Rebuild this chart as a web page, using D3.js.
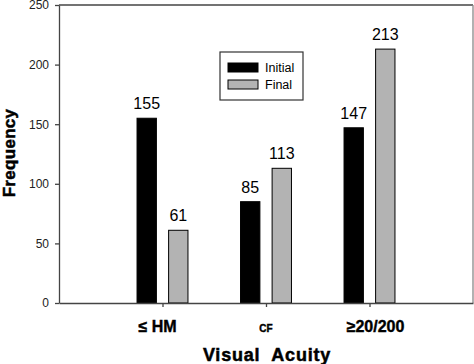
<!DOCTYPE html>
<html>
<head>
<meta charset="utf-8">
<script src="https://cdn.jsdelivr.net/npm/d3@7"></script>
<style>
    body { margin: 0; background: #fff; }
    text { font-family: Arial, "Liberation Sans", sans-serif; }
</style>
</head>
<body>
<svg id="drawing_region"></svg>
<script>
const categories = ['\u2264 HM', 'CF', '\u226520/200'];
const initialValues = [155, 85, 147];
const finalValues = [61, 113, 213];
const seriesNames = ['Initial', 'Final'];
const yTicks = [0, 50, 100, 150, 200, 250];

const config = {
    width: 474,
    height: 364,
    margin: { top: 5, right: 1, bottom: 61, left: 59 },
};

const inner_width = config.width - config.margin.left - config.margin.right;
const inner_height = config.height - config.margin.top - config.margin.bottom;

const svg = d3.select('#drawing_region')
    .attr('width', config.width)
    .attr('height', config.height);

const chart = svg.append('g')
    .attr('transform', `translate(${config.margin.left}, ${config.margin.top})`);

// categories sit at 1,2,3 on a 0..4 axis
const xscale = d3.scaleLinear()
    .domain([0, categories.length + 1])
    .range([0, inner_width]);

const yscale = d3.scaleLinear()
    .domain([0, 250])
    .range([inner_height, 0]);

const barW = 0.187;
const gap = 0.118;

const colors = ['#000000', '#b3b3b3'];
const series = [initialValues, finalValues];

const data = [];
categories.forEach((c, i) => {
    series.forEach((s, j) => {
        const pos = i + 1;
        const x0 = j === 0 ? pos - gap / 2 - barW : pos + gap / 2;
        data.push({ x0: x0, value: s[i], c: colors[j] });
    });
});

// frame
chart.append('line')
    .attr('x1', 0).attr('x2', inner_width)
    .attr('y1', 0).attr('y2', 0)
    .attr('stroke', '#444').attr('stroke-width', 1.3);
chart.append('line')
    .attr('x1', inner_width).attr('x2', inner_width)
    .attr('y1', 0).attr('y2', inner_height)
    .attr('stroke', '#888').attr('stroke-width', 1.3);

// bars
chart.selectAll('rect.bar')
    .data(data)
    .enter()
    .append('rect')
    .attr('class', 'bar')
    .attr('x', d => xscale(d.x0))
    .attr('width', xscale(barW) - xscale(0))
    .attr('y', d => yscale(d.value))
    .attr('height', d => inner_height - yscale(d.value))
    .attr('fill', d => d.c)
    .attr('stroke', '#000')
    .attr('stroke-width', 1);

// value labels
chart.selectAll('text.val')
    .data(data)
    .enter()
    .append('text')
    .attr('class', 'val')
    .attr('x', d => xscale(d.x0 + barW / 2))
    .attr('y', d => yscale(d.value) - 9)
    .attr('text-anchor', 'middle')
    .attr('font-size', 16)
    .attr('fill', '#000')
    .text(d => d.value);

// axes
const yaxis = d3.axisLeft(yscale)
    .tickValues(yTicks)
    .tickSize(4)
    .tickPadding(6)
    .tickSizeOuter(0);

const xaxis = d3.axisBottom(xscale)
    .tickValues(categories.map((c, i) => i + 1))
    .tickFormat('')
    .tickSize(4)
    .tickSizeOuter(0);

const yg = chart.append('g').call(yaxis);
yg.selectAll('text').attr('font-size', 12).attr('fill', '#222');
yg.selectAll('line, path').attr('stroke', '#444').attr('stroke-width', 1.3);

const xg = chart.append('g')
    .attr('transform', `translate(0, ${inner_height})`)
    .call(xaxis);
xg.selectAll('line, path').attr('stroke', '#444').attr('stroke-width', 1.3);

// category labels
chart.selectAll('text.cat')
    .data(categories)
    .enter()
    .append('text')
    .attr('class', 'cat')
    .attr('x', (d, i) => xscale(i + 1) + (i === 0 ? -5 : i === 2 ? 6 : 0))
    .attr('y', inner_height + 29)
    .attr('text-anchor', 'middle')
    .attr('font-weight', 'bold')
    .attr('font-size', d => d === 'CF' ? 10 : 16)
    .attr('fill', '#000')
    .attr('stroke', '#000')
    .attr('stroke-width', 0.4)
    .text(d => d);

// axis titles
svg.append('text')
    .attr('x', 267)
    .attr('y', 361)
    .attr('text-anchor', 'middle')
    .attr('font-weight', 'bold')
    .attr('font-size', 18)
    .attr('letter-spacing', 0.8)
    .attr('stroke', '#000')
    .attr('stroke-width', 0.5)
    .attr('xml:space', 'preserve')
    .style('white-space', 'pre')
    .text('Visual  Acuity');

svg.append('text')
    .attr('transform', 'translate(15, 153) rotate(-90)')
    .attr('text-anchor', 'middle')
    .attr('font-weight', 'bold')
    .attr('font-size', 17)
    .attr('letter-spacing', 0.3)
    .attr('stroke', '#000')
    .attr('stroke-width', 0.5)
    .text('Frequency');

// legend
const legend = svg.append('g');
legend.append('rect')
    .attr('x', 220).attr('y', 52)
    .attr('width', 83).attr('height', 48)
    .attr('fill', '#fff')
    .attr('stroke', '#333').attr('stroke-width', 1.2);

seriesNames.forEach((name, i) => {
    const y = 63 + i * 17;
    legend.append('rect')
        .attr('x', 228).attr('y', y)
        .attr('width', 30).attr('height', 9)
        .attr('fill', colors[i])
        .attr('stroke', '#000');
    legend.append('text')
        .attr('x', 265).attr('y', y + 9)
        .attr('font-size', 12.5)
        .attr('fill', '#000')
        .text(name);
});
</script>
</body>
</html>
